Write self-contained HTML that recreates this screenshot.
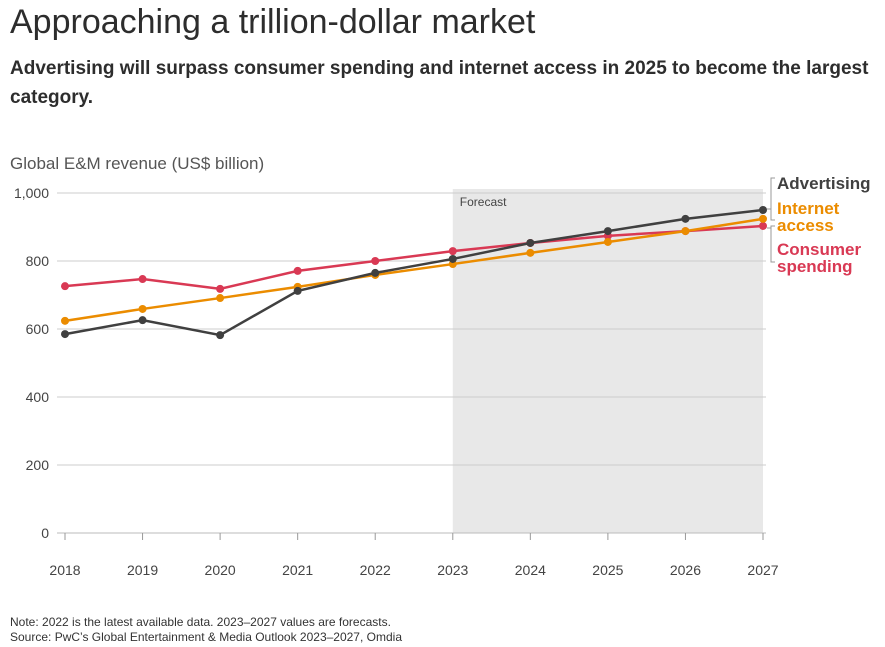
<!DOCTYPE html>
<html><head><meta charset="utf-8"><style>
body{margin:0;background:#fff;font-family:"Liberation Sans",sans-serif;}
#wrap{position:relative;width:885px;height:647px;overflow:hidden;}
</style></head><body><div id="wrap">
<svg id="chart" width="885" height="647" style="position:absolute;left:0;top:0">
<text x="10" y="33" font-size="34" fill="#2d2d2d">Approaching a trillion-dollar market</text>
<text x="10" y="74" font-size="19" font-weight="bold" fill="#2d2d2d">Advertising will surpass consumer spending and internet access in 2025 to become the largest</text>
<text x="10" y="103" font-size="19" font-weight="bold" fill="#2d2d2d">category.</text>
<text x="10" y="169" font-size="17" fill="#555">Global E&amp;M revenue (US$ billion)</text>
<g id="plot"></g>
<text x="10" y="626" font-size="12" fill="#333">Note: 2022 is the latest available data. 2023–2027 values are forecasts.</text>
<text x="10" y="641" font-size="12" fill="#333">Source: PwC’s Global Entertainment &amp; Media Outlook 2023–2027, Omdia</text>
</svg>
<script>
const years=["2018","2019","2020","2021","2022","2023","2024","2025","2026","2027"];
const yTicks=[0,200,400,600,800,1000];
const advertising=[585,626,582,712,765,806,853,888,924,950];
const internetAccess=[624,659,691,724,759,791,824,856,888,924];
const consumerSpending=[726,747,718,771,800,829,853,874,888,903];
const forecastStart="2023";
const NS="http://www.w3.org/2000/svg";
const g=document.getElementById('plot');
const x0=65,x1=763,y0=533,y1=193;
function xs(i){return x0+(x1-x0)*i/(years.length-1);}
function ys(v){return y0-(y0-y1)*v/1000;}
function mk(t,a,p){const e=document.createElementNS(NS,t);for(const k in a)e.setAttribute(k,a[k]);(p||g).appendChild(e);return e;}
const fi=years.indexOf(forecastStart);
let r=mk('rect',{x:xs(fi),y:189,width:xs(years.length-1)-xs(fi),height:y0-189,fill:'#e8e8e8'});


let ft=mk('text',{x:xs(fi)+7,y:206,'font-size':12,fill:'#444'});ft.textContent='Forecast';


yTicks.forEach(v=>{
 let l=mk('line',{x1:x0-8,x2:x1+3,y1:ys(v),y2:ys(v),stroke:v===0?'#bbb':'#ccc','stroke-width':1});
 
 
 let t=mk('text',{x:49,y:ys(v)+5,'font-size':14,fill:'#444','text-anchor':'end'});t.textContent=v.toLocaleString('en-US');
 
 
});
years.forEach((yr,i)=>{
 let tk=mk('line',{x1:xs(i),x2:xs(i),y1:y0,y2:y0+7,stroke:'#999'});
 
 
 let t=mk('text',{x:xs(i),y:575,'font-size':14,fill:'#444','text-anchor':'middle'});t.textContent=yr;
 
 
});
function series(vals,color,name){
 const grp=mk('g',{});
 
 
 let p=mk('polyline',{points:vals.map((v,i)=>xs(i)+','+ys(v)).join(' '),fill:'none',stroke:color,'stroke-width':2.5},grp);
 
 
 vals.forEach((v,i)=>{let c=mk('circle',{cx:xs(i),cy:ys(v),r:4,fill:color},grp);
 
 });
}
series(consumerSpending,'#d93954','consumer-spending');
series(internetAccess,'#eb8c00','internet-access');
series(advertising,'#404040','advertising');
mk('path',{d:'M775,178 H771 V220 H775 M771,209 H767',fill:'none',stroke:'#999'});
mk('path',{d:'M775,226 H771 V262 H775 M771,228 H767',fill:'none',stroke:'#999'});
const leg=[["Advertising",189,'#404040'],["Internet",214,'#eb8c00'],["access",231,'#eb8c00'],["Consumer",255,'#d93954'],["spending",272,'#d93954']];
leg.forEach(([s,y,c])=>{let t=mk('text',{x:777,y:y,'font-size':17,'font-weight':'bold',fill:c});t.textContent=s;
 
 });
</script>
</div></body></html>
